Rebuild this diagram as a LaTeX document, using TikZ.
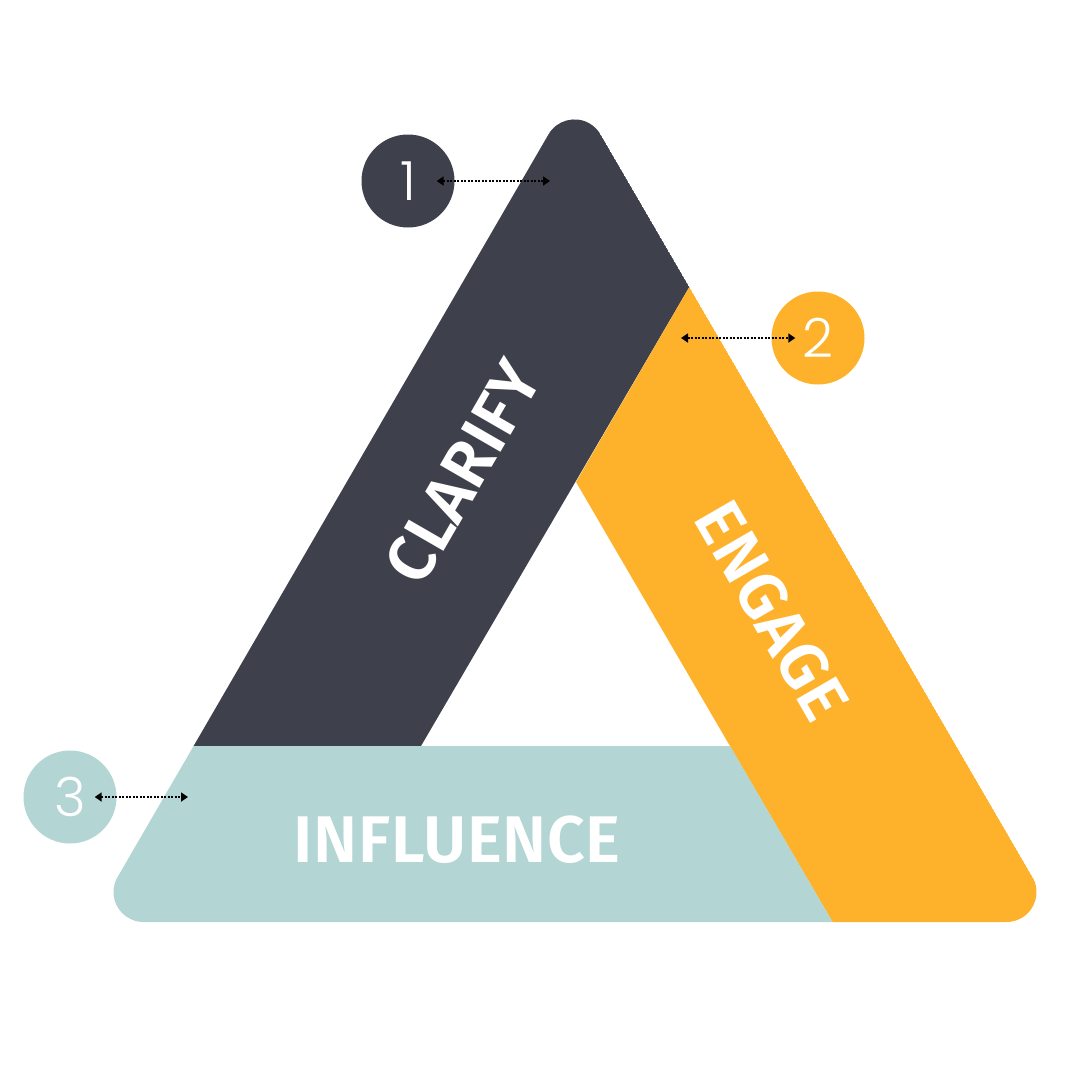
\documentclass[tikz,border=0pt]{standalone}
\usepackage{fontspec}
\usetikzlibrary{arrows.meta}
\newfontfamily\numfont{Poppins Light}
\newfontfamily\lblfont{Fira Sans SemiBold}[LetterSpace=0.8]
\definecolor{darkband}{HTML}{3E404B}
\definecolor{orangeband}{HTML}{FEB12A}
\definecolor{tealband}{HTML}{B3D5D4}
\tikzset{
  numcircle/.style={circle,minimum size=93pt,inner sep=0pt,text=white,font=\numfont\fontsize{54}{54}\selectfont},
  bandlabel/.style={inner sep=0pt,text=white,font=\lblfont\fontsize{66}{66}\selectfont},
  pointer/.style={black,line width=2pt,dash pattern=on 2pt off 1.5pt,{Triangle[width=9pt,length=7pt]}-{Triangle[width=9pt,length=7pt]}}
}
\begin{document}
\begin{tikzpicture}[x=1pt,y=-1pt]
\useasboundingbox (0,0) rectangle (1080,1080);
% band boundary points
\coordinate (A) at (574.5,89.4);
\coordinate (B) at (91.5,922);
\coordinate (C) at (1058.5,922);
\coordinate (P1) at (193.6,746);
\coordinate (P2) at (421,746);
\coordinate (P3) at (689.3,287);
\coordinate (I) at (576,482);
\coordinate (R) at (730,746);
\coordinate (Q) at (832.6,922);
\begin{scope}
\clip (548.5,134.4) arc[start angle=210,end angle=330,radius=30]
  -- (1032.5,877) arc[start angle=-30,end angle=90,radius=30]
  -- (143.5,922) arc[start angle=90,end angle=210,radius=30] -- cycle;
\fill[darkband] (A) -- (P1) -- (P2) -- (P3) -- cycle;
\fill[orangeband] (P3) -- (C) -- (Q) -- (I) -- cycle;
\fill[tealband] (P1) -- (R) -- (Q) -- (B) -- cycle;
\end{scope}
% labels
\node[bandlabel,rotate=60] (clarify) at (463,472) {CLARIFY};
\node[bandlabel,rotate=-60] (engage) at (772,611) {ENGAGE};
\node[bandlabel] (influence) at (457,840) {INFLUENCE};
% numbered circles
\node[numcircle,fill=darkband] (n1) at (408,181) {1};
\node[numcircle,fill=orangeband] (n2) at (818,338) {2};
\node[numcircle,fill=tealband] (n3) at (70,797) {3};
% pointers
\coordinate (t1) at (550,181);
\coordinate (t2) at (681,338);
\coordinate (t3) at (188,797);
\draw[pointer] ([xshift=-18pt]n1.east) -- (t1);
\draw[pointer] (t2) -- ([xshift=24pt]n2.west);
\draw[pointer] ([xshift=-22pt]n3.east) -- (t3);
\end{tikzpicture}
\end{document}
